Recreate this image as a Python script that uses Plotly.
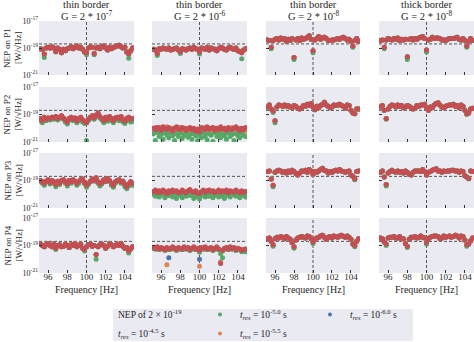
import plotly.graph_objects as go

# ---------------- data (log10 of NEP in W/sqrt(Hz)) ----------------
FREQ = [95.2, 95.4, 95.6, 95.8, 96.0, 96.2, 96.4, 96.6, 96.8, 97.0,
        97.2, 97.4, 97.6, 97.8, 98.0, 98.2, 98.4, 98.6, 98.8, 99.0,
        99.2, 99.4, 99.6, 99.8, 100.0, 100.2, 100.4, 100.6, 100.8, 101.0,
        101.2, 101.4, 101.6, 101.8, 102.0, 102.2, 102.4, 102.6, 102.8, 103.0,
        103.2, 103.4, 103.6, 103.8, 104.0, 104.2, 104.4, 104.6, 104.8]

COL_TITLES = [("thin border", "G = 2 * 10<sup>-7</sup>"),
              ("thin border", "G = 2 * 10<sup>-6</sup>"),
              ("thin border", "G = 2 * 10<sup>-8</sup>"),
              ("thick border", "G = 2 * 10<sup>-8</sup>")]
ROW_LABELS = ["NEP on P1", "NEP on P2", "NEP on P3", "NEP on P4"]
X_TICKS = [96, 98, 100, 102, 104]
Y_TICKS_EXP = [-21, -19, -17]
NEP_REF = 2e-19
F_CENTER = 100

# row 1
P11_R = [-19.05,-19.1,-19.45,-19.0,-18.95,-19.0,-18.9,-19.0,-19.25,-19.0,-19.1,-19.35,-19.1,-19.2,-19.05,-19.0,-18.9,-19.05,-18.95,-18.85,-19.0,-18.95,-19.1,-19.3,-19.35,-19.0,-18.9,-18.95,-19.4,-19.0,-18.95,-19.05,-18.9,-18.85,-19.0,-19.15,-18.95,-19.05,-18.95,-18.9,-18.85,-18.8,-18.9,-19.0,-18.95,-19.3,-19.45,-19.2,-19.0]
P11_G_DIPS = {2: -19.7, 8: -19.3, 24: -19.5, 28: -19.5, 46: -19.75}
P12_R = [-19.1,-19.15,-19.4,-19.05,-19.1,-19.0,-19.05,-19.1,-19.0,-19.15,-19.1,-19.05,-19.0,-19.15,-19.3,-19.05,-19.1,-19.15,-19.05,-19.0,-19.1,-18.95,-19.05,-19.1,-19.3,-19.0,-19.05,-19.1,-18.95,-19.15,-19.0,-19.05,-19.1,-19.2,-19.05,-18.95,-19.0,-19.1,-19.15,-19.0,-18.95,-19.05,-19.1,-19.0,-19.2,-19.25,-19.35,-19.15,-19.05]
P12_G_DIPS = {2: -19.55, 14: -19.4, 24: -19.45, 46: -19.8}
P13_R = [-18.4,-18.45,-18.95,-18.45,-18.35,-18.3,-18.4,-18.25,-18.35,-18.3,-18.5,-18.35,-18.45,-18.3,-19.7,-18.4,-18.3,-18.45,-18.25,-18.35,-18.3,-18.2,-18.1,-18.35,-19.2,-18.4,-18.3,-18.15,-18.35,-18.25,-18.2,-18.3,-18.45,-18.45,-18.4,-18.4,-18.35,-18.3,-18.35,-18.25,-18.2,-18.3,-18.4,-18.35,-18.5,-18.85,-18.45,-18.3,-18.5]
P13_G_DIPS = {2: -19.05, 14: -19.85, 24: -19.35, 45: -18.95}
P14_R = [-18.45,-18.4,-18.95,-18.4,-18.3,-18.35,-18.4,-18.3,-18.35,-18.25,-18.45,-18.35,-18.4,-18.35,-19.65,-18.35,-18.3,-18.4,-18.3,-18.35,-18.25,-18.2,-18.15,-18.3,-19.15,-18.4,-18.35,-18.2,-18.3,-18.25,-18.25,-18.3,-18.4,-18.4,-18.45,-18.35,-18.3,-18.3,-18.3,-18.25,-18.2,-18.35,-18.4,-18.3,-18.45,-18.85,-18.5,-18.3,-18.45]
P14_G_DIPS = {2: -19.05, 14: -19.85, 24: -19.3, 45: -18.95}
# row 2
P21_R = [-19.3,-19.45,-19.2,-19.35,-19.25,-19.3,-19.2,-19.25,-19.15,-19.3,-19.2,-19.1,-19.25,-19.4,-19.55,-19.3,-19.2,-19.35,-19.25,-19.45,-19.3,-19.2,-19.4,-19.5,-19.6,-19.35,-19.2,-19.1,-19.25,-19.05,-18.9,-19.15,-19.3,-19.45,-19.2,-19.35,-19.15,-19.3,-19.45,-19.25,-19.2,-19.3,-19.15,-19.4,-19.5,-19.3,-19.2,-19.35,-19.3]
P21_G = [-19.45,-19.6,-19.35,-19.45,-19.35,-19.4,-19.3,-19.35,-19.25,-19.4,-19.3,-19.2,-19.35,-19.55,-19.7,-19.4,-19.3,-19.45,-19.35,-19.6,-19.45,-19.3,-19.55,-19.65,-20.9,-19.45,-19.3,-19.2,-19.35,-19.15,-19.0,-19.25,-19.4,-19.6,-19.35,-19.5,-19.3,-19.45,-19.6,-19.4,-19.35,-19.45,-19.3,-19.55,-19.65,-19.45,-19.35,-19.55,-19.5]
P22_R = [-20.0,-20.1,-19.95,-20.05,-20.15,-19.9,-20.0,-20.1,-19.95,-20.05,-20.2,-20.0,-19.9,-20.05,-20.1,-19.95,-20.0,-20.15,-20.05,-19.95,-20.1,-20.0,-20.2,-20.05,-20.25,-19.95,-20.0,-20.1,-19.9,-20.05,-20.0,-19.95,-20.15,-20.0,-20.1,-19.9,-20.05,-20.0,-20.15,-19.95,-20.05,-20.1,-20.0,-19.9,-20.05,-20.15,-20.0,-20.1,-19.95]
P22_O = [-20.15,-19.95,-20.2,-20.1,-19.95,-20.25,-20.1,-19.9,-20.2,-20.15,-20.0,-20.3,-20.1,-20.2,-19.95,-20.25,-20.15,-20.0,-20.3,-20.1,-20.05,-20.35,-20.1,-20.4,-20.2,-20.1,-20.25,-19.95,-20.2,-20.3,-20.1,-20.2,-20.0,-20.25,-20.15,-20.3,-20.1,-20.2,-20.0,-20.25,-20.15,-19.95,-20.2,-20.3,-20.1,-20.0,-20.25,-20.15,-20.2]
P22_B = [-20.05,-20.2,-20.1,-19.95,-20.25,-20.05,-20.15,-20.2,-20.05,-20.3,-20.1,-20.15,-20.2,-19.95,-20.25,-20.1,-20.3,-20.15,-20.05,-20.2,-20.3,-20.1,-20.25,-20.35,-20.15,-20.2,-20.1,-20.3,-20.05,-20.2,-20.15,-20.3,-20.1,-20.15,-20.25,-20.05,-20.2,-20.3,-20.1,-20.2,-20.25,-20.15,-20.1,-20.2,-20.3,-20.1,-20.2,-20.05,-20.15]
P22_G = [-20.4,-20.9,-20.3,-20.6,-20.45,-20.8,-20.35,-20.5,-20.7,-20.3,-20.55,-20.9,-20.4,-20.6,-20.35,-20.75,-20.5,-20.3,-20.65,-20.45,-20.8,-20.4,-20.55,-20.9,-20.5,-20.7,-20.35,-20.6,-20.85,-20.4,-20.5,-20.95,-20.3,-20.6,-20.45,-20.7,-20.4,-20.55,-20.8,-20.35,-20.6,-20.45,-20.9,-20.4,-20.55,-20.7,-20.35,-20.5,-20.6]
P23_R = [-18.45,-18.3,-18.6,-18.75,-19.45,-18.45,-18.3,-18.35,-18.4,-18.3,-18.4,-18.35,-18.45,-18.5,-18.35,-18.4,-18.55,-18.6,-18.5,-18.35,-18.4,-18.25,-18.35,-18.2,-18.45,-18.65,-18.4,-18.5,-18.35,-18.25,-18.1,-18.3,-18.4,-18.5,-18.45,-18.3,-18.35,-18.3,-18.25,-18.35,-18.4,-18.55,-18.3,-18.35,-18.7,-18.9,-18.95,-18.6,-18.6]
P23_G_DIPS = {4: -19.6, 3: -18.85}
P24_R = [-18.45,-18.35,-18.7,-19.3,-18.6,-18.4,-18.3,-18.35,-18.45,-18.3,-18.4,-18.35,-18.5,-18.45,-18.35,-18.4,-18.5,-18.6,-18.55,-18.35,-18.4,-18.3,-18.3,-18.25,-18.5,-18.7,-18.45,-18.5,-18.3,-18.2,-18.15,-18.3,-18.45,-18.5,-18.4,-18.35,-18.3,-18.3,-18.25,-18.4,-18.35,-18.5,-18.3,-18.4,-18.7,-18.95,-18.9,-18.6,-18.55]
P24_G_DIPS = {3: -19.35, 45: -19.0}
# row 3
P31_R = [-19.0,-19.1,-19.2,-19.05,-18.95,-19.15,-19.0,-19.1,-19.3,-19.05,-19.2,-19.0,-18.95,-19.1,-19.25,-19.0,-19.1,-18.95,-19.05,-19.2,-19.1,-18.95,-18.9,-19.15,-19.35,-19.2,-19.05,-18.9,-19.0,-18.8,-19.1,-19.25,-19.15,-18.95,-19.05,-18.85,-19.0,-19.2,-19.35,-19.1,-19.0,-18.95,-19.1,-19.05,-19.3,-19.45,-19.25,-19.1,-19.2]
P31_G = [-19.05,-19.2,-19.35,-19.1,-19.0,-19.25,-19.05,-19.2,-19.45,-19.1,-19.3,-19.05,-19.0,-19.2,-19.4,-19.05,-19.2,-19.0,-19.1,-19.35,-19.2,-19.0,-18.95,-19.25,-19.5,-19.3,-19.1,-18.95,-19.05,-18.85,-19.2,-19.4,-19.25,-19.0,-19.1,-18.9,-19.05,-19.35,-19.5,-19.2,-19.05,-19.0,-19.2,-19.1,-19.45,-19.6,-19.4,-19.2,-19.35]
P32_R = [-19.8,-19.7,-19.9,-19.75,-19.85,-19.7,-19.8,-19.95,-19.75,-19.85,-19.7,-19.8,-19.75,-19.9,-19.85,-19.7,-19.8,-19.9,-19.75,-19.65,-19.8,-19.85,-19.75,-19.9,-19.95,-19.8,-19.7,-19.85,-19.75,-19.7,-19.8,-19.75,-19.9,-19.8,-19.7,-19.85,-19.75,-19.8,-19.7,-19.9,-19.75,-19.8,-19.85,-19.7,-19.8,-19.9,-19.75,-19.85,-19.8]
P32_O = [-19.9,-19.85,-19.95,-19.8,-19.95,-19.85,-19.9,-20.0,-19.85,-19.95,-19.8,-19.9,-19.85,-20.0,-19.9,-19.8,-19.95,-20.0,-19.85,-19.8,-19.9,-19.95,-19.85,-20.0,-20.05,-19.9,-19.8,-19.95,-19.85,-19.8,-19.9,-19.85,-20.0,-19.9,-19.8,-19.95,-19.85,-19.9,-19.8,-20.0,-19.85,-19.9,-19.95,-19.8,-19.9,-20.0,-19.85,-19.95,-19.9]
P32_B = [-19.85,-19.9,-19.85,-19.9,-19.9,-19.8,-19.95,-19.9,-19.9,-19.9,-19.85,-19.95,-19.8,-19.95,-19.95,-19.85,-19.9,-19.95,-19.9,-19.75,-19.95,-19.9,-19.9,-19.95,-20.0,-19.95,-19.85,-19.9,-19.9,-19.85,-19.95,-19.9,-19.95,-19.85,-19.85,-19.9,-19.9,-19.95,-19.85,-19.95,-19.9,-19.95,-19.9,-19.85,-19.95,-19.95,-19.9,-19.9,-19.95]
P32_G = [-20.0,-20.15,-19.95,-20.2,-20.05,-19.9,-20.25,-20.0,-20.1,-19.95,-20.2,-20.05,-20.3,-19.95,-20.1,-20.25,-20.0,-20.15,-19.95,-20.1,-20.05,-20.3,-20.2,-20.0,-20.35,-20.1,-19.95,-20.2,-20.05,-20.15,-20.0,-20.25,-20.1,-19.95,-20.2,-20.05,-20.15,-20.3,-20.0,-20.1,-20.2,-19.95,-20.05,-20.15,-20.0,-20.25,-20.1,-20.0,-20.2]
P33_R = [-18.35,-18.3,-18.9,-19.35,-18.4,-18.3,-18.25,-18.3,-18.4,-18.35,-18.45,-18.3,-18.4,-18.25,-18.35,-18.5,-18.6,-18.45,-18.3,-18.35,-18.25,-18.4,-18.2,-18.3,-18.55,-18.35,-18.4,-18.3,-18.2,-18.1,-18.25,-18.3,-18.45,-18.35,-18.4,-18.3,-18.25,-18.3,-18.2,-18.3,-18.35,-18.4,-18.35,-18.3,-18.6,-18.7,-18.9,-18.35,-18.3]
P33_G_DIPS = {3: -19.45, 46: -18.95}
P34_R = [-18.4,-18.3,-18.75,-19.3,-18.45,-18.35,-18.25,-18.35,-18.4,-18.3,-18.4,-18.35,-18.45,-18.3,-18.4,-18.55,-18.6,-18.4,-18.3,-18.3,-18.3,-18.35,-18.2,-18.35,-18.6,-18.4,-18.35,-18.25,-18.2,-18.15,-18.3,-18.3,-18.4,-18.3,-18.35,-18.3,-18.3,-18.25,-18.25,-18.3,-18.3,-18.4,-18.3,-18.35,-18.65,-18.75,-18.85,-18.3,-18.35]
P34_G_DIPS = {3: -19.4, 46: -18.9}
# row 4
P41_R = [-18.9,-19.0,-19.1,-18.95,-18.85,-19.0,-19.1,-18.9,-19.2,-19.0,-18.95,-19.1,-19.05,-18.9,-19.0,-19.15,-18.95,-19.0,-18.85,-19.1,-19.0,-18.9,-19.2,-19.3,-19.1,-18.95,-18.9,-19.05,-19.0,-19.65,-19.1,-18.95,-18.9,-19.0,-19.2,-19.05,-18.85,-18.95,-19.1,-19.0,-18.9,-19.0,-18.85,-19.05,-19.2,-19.15,-19.4,-19.25,-19.1]
P41_G_DIPS = {29: -20.0, 46: -19.55, 23: -19.4, 8: -19.3}
P42_R = [-19.15,-19.2,-19.1,-19.25,-19.15,-19.2,-19.3,-19.15,-19.25,-19.2,-19.1,-19.2,-19.3,-19.15,-19.2,-19.25,-19.1,-19.2,-19.15,-19.3,-19.2,-19.1,-19.25,-19.2,-19.35,-19.15,-19.2,-19.1,-19.25,-19.2,-19.15,-19.3,-19.2,-19.1,-19.25,-20.3,-19.35,-19.2,-19.15,-19.25,-19.1,-19.2,-19.15,-19.3,-19.2,-19.25,-19.35,-19.3,-19.25]
P42_O = [-19.2,-19.25,-19.15,-19.3,-19.2,-19.25,-19.35,-20.4,-19.3,-19.25,-19.15,-19.25,-19.35,-19.2,-19.25,-19.3,-19.15,-19.25,-19.2,-19.35,-19.25,-19.15,-19.3,-19.25,-20.5,-19.2,-19.25,-19.15,-19.3,-19.25,-19.2,-19.35,-19.25,-19.15,-19.3,-20.2,-19.4,-19.25,-19.2,-19.3,-19.15,-19.25,-19.2,-19.35,-19.25,-19.3,-19.4,-19.35,-19.3]
P42_B = [-19.2,-19.25,-19.15,-19.3,-19.2,-19.25,-19.35,-19.2,-19.9,-19.25,-19.15,-19.25,-19.35,-19.2,-19.25,-19.3,-19.15,-19.25,-19.2,-19.35,-19.25,-19.15,-19.3,-19.25,-20.0,-19.2,-19.25,-19.15,-19.3,-19.25,-19.2,-19.35,-19.25,-19.15,-19.3,-20.2,-19.4,-19.25,-19.2,-19.3,-19.15,-19.25,-19.2,-19.35,-19.25,-19.3,-19.4,-19.35,-19.3]
P42_G = [-19.2,-19.25,-19.15,-19.3,-19.2,-19.25,-19.35,-19.2,-19.3,-19.25,-19.15,-19.25,-19.35,-19.2,-19.25,-19.3,-19.15,-19.25,-19.2,-19.35,-19.25,-19.15,-19.3,-19.25,-19.5,-19.2,-19.25,-19.15,-19.3,-19.25,-19.2,-19.35,-19.25,-19.15,-19.3,-19.6,-19.9,-19.25,-19.2,-19.3,-19.15,-19.25,-19.2,-19.35,-19.25,-19.3,-19.45,-19.35,-19.45]
P43_R = [-18.5,-18.45,-18.7,-18.95,-18.5,-18.4,-18.45,-18.35,-18.4,-18.5,-18.35,-18.45,-18.55,-18.8,-19.1,-18.6,-18.45,-18.4,-18.35,-18.4,-18.45,-18.3,-18.35,-18.5,-18.75,-18.55,-18.45,-18.4,-18.3,-18.25,-18.4,-18.55,-18.4,-18.35,-18.45,-18.3,-18.35,-18.4,-18.3,-18.25,-18.35,-18.4,-18.3,-18.4,-18.55,-18.9,-19.0,-18.7,-18.5]
P43_G_DIPS = {3: -19.05, 14: -19.2, 24: -18.85, 46: -19.1}
P44_R = [-18.45,-18.5,-18.75,-18.9,-18.45,-18.4,-18.4,-18.35,-18.45,-18.45,-18.35,-18.5,-18.5,-18.85,-19.05,-18.55,-18.4,-18.4,-18.35,-18.45,-18.4,-18.3,-18.4,-18.45,-18.8,-18.5,-18.4,-18.35,-18.3,-18.3,-18.35,-18.5,-18.45,-18.3,-18.4,-18.35,-18.3,-18.4,-18.35,-18.25,-18.3,-18.45,-18.3,-18.35,-18.6,-18.95,-18.9,-18.65,-18.45]
P44_G_DIPS = {3: -19.0, 14: -19.15, 24: -18.9, 45: -19.05}


def with_dips(base, dips):
    """green series equals the red one except at the listed frequency indices"""
    out = list(base)
    for i, v in dips.items():
        out[i] = v
    return out


P11_G = with_dips(P11_R, P11_G_DIPS)
P12_G = with_dips(P12_R, P12_G_DIPS)
P13_G = with_dips(P13_R, P13_G_DIPS)
P14_G = with_dips(P14_R, P14_G_DIPS)
P23_G = with_dips(P23_R, P23_G_DIPS)
P24_G = with_dips(P24_R, P24_G_DIPS)
P33_G = with_dips(P33_R, P33_G_DIPS)
P34_G = with_dips(P34_R, P34_G_DIPS)
P41_G = with_dips(P41_R, P41_G_DIPS)
P43_G = with_dips(P43_R, P43_G_DIPS)
P44_G = with_dips(P44_R, P44_G_DIPS)

# series per panel: (blue 1e-6.0, orange 1e-5.5, green 1e-5.0, red 1e-4.5)
PANELS = {
    (0, 0): (P11_R, P11_R, P11_G, P11_R), (0, 1): (P12_R, P12_R, P12_G, P12_R),
    (0, 2): (P13_R, P13_R, P13_G, P13_R), (0, 3): (P14_R, P14_R, P14_G, P14_R),
    (1, 0): (P21_R, P21_R, P21_G, P21_R), (1, 1): (P22_B, P22_O, P22_G, P22_R),
    (1, 2): (P23_R, P23_R, P23_G, P23_R), (1, 3): (P24_R, P24_R, P24_G, P24_R),
    (2, 0): (P31_R, P31_R, P31_G, P31_R), (2, 1): (P32_B, P32_O, P32_G, P32_R),
    (2, 2): (P33_R, P33_R, P33_G, P33_R), (2, 3): (P34_R, P34_R, P34_G, P34_R),
    (3, 0): (P41_R, P41_R, P41_G, P41_R), (3, 1): (P42_B, P42_O, P42_G, P42_R),
    (3, 2): (P43_R, P43_R, P43_G, P43_R), (3, 3): (P44_R, P44_R, P44_G, P44_R),
}
SERIES_NAMES = ["<i>t<sub>res</sub></i> = 10<sup>-6.0</sup> s",
                "<i>t<sub>res</sub></i> = 10<sup>-5.5</sup> s",
                "<i>t<sub>res</sub></i> = 10<sup>-5.0</sup> s",
                "<i>t<sub>res</sub></i> = 10<sup>-4.5</sup> s"]
SERIES_COLORS = ["#4C72B0", "#DD8452", "#55A868", "#C44E52"]
# legend column / rank of each series; handles of the first legend column are cut off
SERIES_LEGEND = ["legend3", "legend2", "legend2", "legend"]
SERIES_RANK = [1, 2, 1, 2]
HANDLE_VISIBLE = [True, True, True, False]
NEP_LABEL = "NEP of 2 × 10<sup>-19</sup>"

# ---------------- layout geometry ----------------
W, H = 474, 342
COL_X = [(39, 134), (152, 247), (266, 360), (379, 474)]
ROW_Y = [(21, 75), (87, 142), (153, 208), (218, 273)]
LEGEND_TEXT_X = [118, 240, 350]
FONT = "Liberation Serif"
BG = "#EAEAF2"
DASH = dict(color="#555555", width=1, dash="3px,2px")

fig = go.Figure()
layout = dict(width=W, height=H, margin=dict(l=0, r=0, t=0, b=0, autoexpand=False),
              paper_bgcolor="white", plot_bgcolor=BG, showlegend=True,
              font=dict(family=FONT, color="#262626"))
shapes = []
annotations = []

for (r, c), series in PANELS.items():
    k = r * 4 + c + 1
    sfx = "" if k == 1 else str(k)
    xa, ya = f"x{sfx}", f"y{sfx}"
    x0, x1 = COL_X[c]
    y0, y1 = ROW_Y[r]
    layout[f"xaxis{sfx}"] = dict(
        domain=[x0 / W, x1 / W], anchor=ya, range=[95.05, 104.95],
        tickvals=X_TICKS, ticks="inside", ticklen=3, tickwidth=1, tickcolor="#333",
        showticklabels=(r == 3), tickfont=dict(size=9), ticklabelstandoff=-3,
        showgrid=False, zeroline=False, showline=False)
    layout[f"yaxis{sfx}"] = dict(
        domain=[1 - y1 / H, 1 - y0 / H], anchor=xa, type="log", range=[-21, -17],
        tickvals=[10 ** e for e in Y_TICKS_EXP],
        ticktext=[f"10<sup>{e}</sup>" for e in Y_TICKS_EXP],
        ticks="inside", ticklen=3, tickwidth=1, tickcolor="#333",
        showticklabels=(c == 0), tickfont=dict(size=8), showgrid=False,
        zeroline=False, showline=False)
    for i, vals in enumerate(series):
        fig.add_trace(go.Scatter(
            x=FREQ[:len(vals)], y=[10 ** v for v in vals], mode="markers",
            xaxis=xa, yaxis=ya, name=SERIES_NAMES[i], showlegend=False,
            marker=dict(size=5, color=SERIES_COLORS[i], line=dict(width=0))))
    shapes.append(dict(type="line", xref=xa, yref=f"{ya} domain", x0=F_CENTER, x1=F_CENTER,
                       y0=0, y1=1, line=DASH, layer="below"))
    shapes.append(dict(type="line", xref=f"{xa} domain", yref=ya, x0=0, x1=1,
                       y0=NEP_REF, y1=NEP_REF, line=DASH, layer="below"))

# legend entries (no data)
fig.add_trace(go.Scatter(x=[None], y=[None], mode="lines", name=NEP_LABEL, legend="legend",
                         legendrank=1, line=dict(color="rgba(0,0,0,0)")))
for i in range(4):
    fig.add_trace(go.Scatter(
        x=[None], y=[None], mode="markers", name=SERIES_NAMES[i], legend=SERIES_LEGEND[i],
        legendrank=SERIES_RANK[i],
        marker=dict(size=4, color=SERIES_COLORS[i] if HANDLE_VISIBLE[i] else "rgba(0,0,0,0)")))

# legend frame
shapes.append(dict(type="rect", xref="paper", yref="paper", x0=113 / W, x1=413 / W,
                   y0=1 - 341 / H, y1=1 - 309 / H, fillcolor=BG, line=dict(width=0),
                   layer="below"))

for c, (t1, t2) in enumerate(COL_TITLES):
    xc = (COL_X[c][0] + COL_X[c][1]) / 2 / W
    annotations.append(dict(text=t1, x=xc, y=1 - 4.5 / H, xref="paper", yref="paper",
                            xanchor="center", yanchor="middle", showarrow=False,
                            font=dict(size=10.5)))
    annotations.append(dict(text=t2, x=xc, y=1 - 15.5 / H, xref="paper", yref="paper",
                            xanchor="center", yanchor="middle", showarrow=False,
                            font=dict(size=10.5)))
    annotations.append(dict(text="Frequency [Hz]", x=xc, y=1 - 289 / H, xref="paper",
                            yref="paper", xanchor="center", yanchor="middle",
                            showarrow=False, font=dict(size=10)))
for r, t in enumerate(ROW_LABELS):
    yc = 1 - (ROW_Y[r][0] + ROW_Y[r][1]) / 2 / H
    annotations.append(dict(text=t, x=7 / W, y=yc, xref="paper", yref="paper",
                            xanchor="center", yanchor="middle", textangle=-90,
                            showarrow=False, font=dict(size=9)))
    annotations.append(dict(text="[W/√Hz]", x=18 / W, y=yc, xref="paper", yref="paper",
                            xanchor="center", yanchor="middle", textangle=-90,
                            showarrow=False, font=dict(size=9)))

layout["shapes"] = shapes
layout["annotations"] = annotations
for j, name in enumerate(["legend", "legend2", "legend3"]):
    layout[name] = dict(orientation="v", x=(LEGEND_TEXT_X[j] - 40) / W, xanchor="left",
                        y=1 - 300 / H, yanchor="top", bgcolor="rgba(0,0,0,0)",
                        font=dict(size=9.5, family=FONT), itemwidth=30,
                        traceorder="normal", tracegroupgap=0)
fig.update_layout(**layout)
fig.write_html("out.html")
